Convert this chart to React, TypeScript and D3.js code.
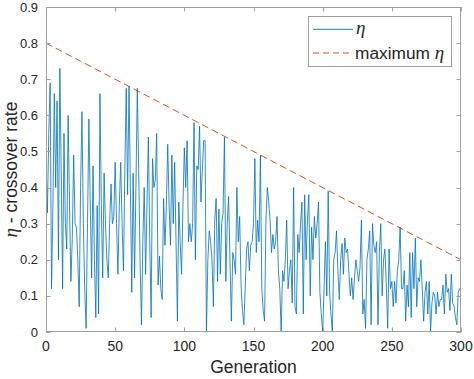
import React from "react";
import * as d3 from "d3";

// crossover rate per generation (index = generation 0..300)
const eta: number[] = [
  0.48, 0.33, 0.55, 0.69, 0.12, 0.35, 0.66, 0.40, 0.64, 0.20,
  0.73, 0.45, 0.12, 0.55, 0.30, 0.23, 0.60, 0.35, 0.14, 0.26,
  0.49, 0.30, 0.29, 0.20, 0.07, 0.40, 0.61, 0.30, 0.12, 0.01,
  0.30, 0.59, 0.35, 0.15, 0.46, 0.20, 0.04, 0.35, 0.05, 0.66,
  0.35, 0.15, 0.44, 0.30, 0.20, 0.15, 0.30, 0.41, 0.30, 0.32,
  0.47, 0.30, 0.16, 0.35, 0.47, 0.30, 0.17, 0.45, 0.675, 0.38,
  0.68, 0.40, 0.11, 0.44, 0.15, 0.40, 0.675, 0.45, 0.20, 0.02,
  0.25, 0.40, 0.16, 0.35, 0.54, 0.25, 0.04, 0.48, 0.40, 0.42,
  0.55, 0.13, 0.21, 0.12, 0.09, 0.37, 0.24, 0.35, 0.52, 0.35,
  0.24, 0.49, 0.30, 0.47, 0.25, 0.03, 0.36, 0.25, 0.16, 0.35,
  0.51, 0.40, 0.53, 0.25, 0.30, 0.25, 0.30, 0.58, 0.20, 0.46,
  0.45, 0.57, 0.36, 0.45, 0.53, 0.53, 0.00, 0.20, 0.28, 0.25,
  0.20, 0.07, 0.31, 0.37, 0.14, 0.34, 0.16, 0.30, 0.33, 0.54,
  0.14, 0.30, 0.375, 0.20, 0.03, 0.22, 0.20, 0.16, 0.40, 0.25,
  0.32, 0.13, 0.06, 0.02, 0.12, 0.23, 0.25, 0.17, 0.24, 0.25,
  0.30, 0.48, 0.22, 0.31, 0.25, 0.49, 0.12, 0.06, 0.03, 0.31,
  0.40, 0.36, 0.31, 0.22, 0.27, 0.23, 0.25, 0.32, 0.17, 0.12,
  0.00, 0.17, 0.14, 0.20, 0.31, 0.12, 0.17, 0.20, 0.08, 0.40,
  0.07, 0.05, 0.27, 0.22, 0.30, 0.36, 0.05, 0.38, 0.20, 0.31,
  0.38, 0.10, 0.29, 0.20, 0.32, 0.26, 0.30, 0.36, 0.11, 0.05,
  0.00, 0.12, 0.25, 0.10, 0.39, 0.11, 0.05, 0.00, 0.20, 0.22,
  0.28, 0.17, 0.09, 0.20, 0.245, 0.16, 0.26, 0.22, 0.23, 0.16,
  0.10, 0.15, 0.09, 0.15, 0.20, 0.17, 0.14, 0.18, 0.31, 0.05,
  0.09, 0.01, 0.20, 0.23, 0.28, 0.02, 0.30, 0.24, 0.22, 0.25,
  0.02, 0.22, 0.30, 0.10, 0.20, 0.23, 0.13, 0.01, 0.23, 0.12,
  0.14, 0.07, 0.14, 0.08, 0.17, 0.20, 0.29, 0.12, 0.12, 0.17,
  0.03, 0.13, 0.07, 0.22, 0.04, 0.22, 0.12, 0.26, 0.07, 0.15,
  0.14, 0.20, 0.12, 0.03, 0.11, 0.14, 0.05, 0.14, 0.00, 0.08,
  0.11, 0.10, 0.05, 0.11, 0.07, 0.09, 0.09, 0.13, 0.05, 0.16,
  0.11, 0.12, 0.06, 0.16, 0.08, 0.07, 0.04, 0.02, 0.11, 0.12,
  0.11,
];

// maximum eta: linear bound
const maxGen: number[] = [0, 300];
const maxEta: number[] = [0.8, 0.2];

const xTicks: number[] = [0, 50, 100, 150, 200, 250, 300];
const yTicks: number[] = [0, 0.1, 0.2, 0.3, 0.4, 0.5, 0.6, 0.7, 0.8, 0.9];
const yTickLabels: string[] = ["0", "0.1", "0.2", "0.3", "0.4", "0.5", "0.6", "0.7", "0.8", "0.9"];

const legendLabels: string[] = ["η", "maximum η"];

const W = 474;
const H = 379;
const L = 46, R = 461, T = 7, B = 332;

const BLUE = "#0072BD";
const ORANGE = "#D95319";
const AXIS = "#a0a0a0";
const TEXT = "#262626";
const SANS = "'Liberation Sans', Arial, Helvetica, sans-serif";
const SERIF = "'Liberation Serif', 'Times New Roman', serif";

export default function App() {
  const x = d3.scaleLinear().domain([0, 300]).range([L, R]);
  const y = d3.scaleLinear().domain([0, 0.9]).range([B, T]);

  const etaLine = d3
    .line<number>()
    .x((_, i) => x(i))
    .y((d) => y(d))(eta) as string;

  const maxLine = d3
    .line<number>()
    .x((d) => x(d))
    .y((_, i) => y(maxEta[i]))(maxGen) as string;

  const tickLen = 4.5;

  return (
    <div style={{ position: "absolute", left: 0, top: 0 }}>
      <svg width={W} height={H} viewBox={`0 0 ${W} ${H}`} style={{ display: "block", background: "#fff" }}>
        <defs>
          <clipPath id="plotclip">
            <rect x={L} y={T - 1} width={R - L} height={B - T + 2} />
          </clipPath>
        </defs>
        <rect x={0} y={0} width={W} height={H} fill="#fff" />

        {/* data */}
        <g clipPath="url(#plotclip)">
          <path d={maxLine} fill="none" stroke={ORANGE} strokeWidth={1} strokeDasharray="7,4" />
          <path d={etaLine} fill="none" stroke={BLUE} strokeWidth={0.8} strokeLinejoin="round" />
        </g>

        {/* box */}
        <rect x={L + 0.5} y={T + 0.5} width={R - L - 1} height={B - T - 1} fill="none" stroke={AXIS} strokeWidth={1} />

        {/* x ticks */}
        {xTicks.map((t) => (
          <g key={"xt" + t}>
            <line x1={Math.round(x(t)) + 0.5} x2={Math.round(x(t)) + 0.5} y1={B} y2={B - tickLen} stroke={AXIS} />
            <line x1={Math.round(x(t)) + 0.5} x2={Math.round(x(t)) + 0.5} y1={T} y2={T + tickLen} stroke={AXIS} />
            <text x={x(t)} y={351} textAnchor="middle" fontFamily={SANS} fontSize={14} fill={TEXT}>
              {t}
            </text>
          </g>
        ))}

        {/* y ticks */}
        {yTicks.map((t, i) => (
          <g key={"yt" + i}>
            <line x1={L} x2={L + tickLen} y1={Math.round(y(t)) + 0.5} y2={Math.round(y(t)) + 0.5} stroke={AXIS} />
            <line x1={R} x2={R - tickLen} y1={Math.round(y(t)) + 0.5} y2={Math.round(y(t)) + 0.5} stroke={AXIS} />
            <text x={38} y={y(t) + 4.5} textAnchor="end" fontFamily={SANS} fontSize={13} fill={TEXT}>
              {yTickLabels[i]}
            </text>
          </g>
        ))}

        {/* axis labels */}
        <text x={(L + R) / 2} y={373} textAnchor="middle" fontFamily={SANS} fontSize={17.5} fill={TEXT}>
          Generation
        </text>
        <text transform={`translate(17,${(T + B) / 2}) rotate(-90)`} textAnchor="middle" fontFamily={SANS} fontSize={17.5} fill={TEXT}>
          <tspan fontFamily={SERIF} fontStyle="italic" fontSize={19}>η</tspan>
          <tspan> - crossover rate</tspan>
        </text>

        {/* legend */}
        <g>
          <rect x={308.5} y={16.5} width={143} height={50} fill="#fff" stroke={AXIS} strokeWidth={1} />
          <line x1={313} x2={353} y1={29.3} y2={29.3} stroke="#1a7cc4" strokeWidth={1} />
          <text x={356} y={34} fontFamily={SERIF} fontStyle="italic" fontSize={19} fill={TEXT}>
            {legendLabels[0]}
          </text>
          <line x1={313} x2={353} y1={53} y2={53} stroke={ORANGE} strokeWidth={1} strokeDasharray="6,4" />
          <text x={355} y={58.5} fontFamily={SANS} fontSize={17.3} fill={TEXT}>
            {legendLabels[1].replace(" η", " ")}
            <tspan fontFamily={SERIF} fontStyle="italic" fontSize={19}>η</tspan>
          </text>
        </g>
      </svg>
    </div>
  );
}
